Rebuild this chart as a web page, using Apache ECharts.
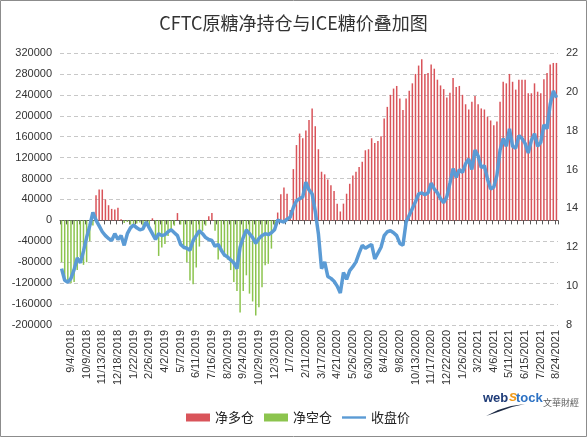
<!DOCTYPE html>
<html>
<head>
<meta charset="utf-8">
<style>
  html, body { margin: 0; padding: 0; background: #fff; }
  #chart-container { width: 587px; height: 437px; }
</style>
<script src="https://cdn.jsdelivr.net/npm/echarts@6/dist/echarts.min.js"></script>
</head>
<body>
<div id="chart-container"></div>
<script>
var dom = document.getElementById('chart-container');
var myChart = echarts.init(dom, null, { renderer: 'canvas' });

// weekly report dates, first one 8/14/2018
var startDate = Date.UTC(2018, 7, 14);
var weekCount = 159;

// CFTC non-commercial net position (contracts)
var netPosition = [
  -80000, -112000, -118000, -120000, -118000, -95000, -70000, -85000, -80000, -40000,
  -10000, 48000, 59000, 59000, 40000, 29000, 22000, 21000, 24000, 2000,
  -5000, -3000, -8000, -12000, -6000, -4000, -10000, -5000, -15000, 4000,
  -35000, -68000, -52000, -45000, -30000, -20000, -10000, 14000, -8000, -55000,
  -80000, -115000, -122000, -90000, -50000, -20000, -10000, 8000, 14000, -20000,
  -75000, -60000, -70000, -75000, -95000, -118000, -135000, -176000, -135000, -105000,
  -140000, -155000, -182000, -166000, -128000, -86000, -83000, -54000, -10000, 15000,
  50000, 63000, 51000, 20000, 98000, 144000, 166000, 157000, 172000, 192000,
  214000, 180000, 136000, 93000, 88000, 78000, 67000, 56000, 32000, 17000,
  32000, 51000, 70000, 86000, 93000, 102000, 112000, 134000, 136000, 157000,
  148000, 152000, 161000, 195000, 217000, 240000, 252000, 257000, 233000, 211000,
  233000, 248000, 262000, 280000, 296000, 308000, 280000, 282000, 298000, 290000,
  269000, 258000, 251000, 235000, 244000, 272000, 255000, 257000, 240000, 222000,
  212000, 227000, 238000, 222000, 214000, 212000, 198000, 191000, 182000, 189000,
  227000, 265000, 262000, 280000, 265000, 250000, 269000, 269000, 269000, 243000,
  243000, 262000, 246000, 243000, 270000, 282000, 298000, 301000, 301000
];

// ICE raw sugar close (US cents/lb)
var closePrice = [
  10.9, 10.3, 10.2, 10.4, 10.85, 11.45, 11.2, 11.8, 12.5, 13.1,
  13.8, 13.4, 13.1, 12.8, 12.6, 12.45, 12.35, 12.7, 12.4, 12.6,
  12.1, 12.7, 13.0, 13.15, 13.0, 12.9, 12.95, 13.3, 13.0, 12.7,
  12.4, 12.7, 12.6, 12.65, 12.8, 12.9, 12.75, 12.6, 12.15, 12.0,
  11.95, 11.85, 12.35, 12.6, 12.85, 12.7, 12.5, 12.4, 12.35, 12.05,
  12.15, 11.85, 11.6, 11.5, 11.35, 11.2, 10.9, 12.0, 12.5, 12.9,
  12.7, 12.5, 12.2, 12.45, 12.6, 12.7, 12.65, 12.75, 12.9, 13.4,
  13.35, 13.3, 13.45, 13.55, 14.05, 14.4, 14.5, 14.6, 15.35, 14.95,
  14.75, 13.85, 12.7, 10.9, 11.25, 10.5, 10.4, 10.25, 10.0, 9.65,
  10.7, 10.35, 10.8, 11.0, 11.25, 11.7, 12.1, 11.95, 12.05, 12.15,
  11.4, 11.7, 12.0, 12.6, 12.8, 12.85, 12.75, 12.6, 12.2, 12.1,
  13.3, 13.65, 14.0, 14.35, 14.75, 14.8, 14.7, 14.8, 15.3, 15.0,
  14.8, 14.5, 14.3, 14.6, 15.3, 16.05, 15.6, 16.0, 15.85, 16.3,
  16.55, 16.0, 17.0, 16.7, 16.1, 16.2, 15.5, 15.0, 15.1, 15.7,
  17.0, 17.6, 17.2, 18.1, 17.2, 17.1, 17.75, 17.6, 17.35, 16.85,
  17.5, 17.85, 17.2, 17.4, 18.3, 18.1, 19.35, 20.05, 19.7
];

var leftTicks = { min: -200000, max: 320000, interval: 40000 };
var rightTicks = { min: 8, max: 22, interval: 2 };

var dates = [];
for (var i = 0; i < weekCount; i++) {
  var d = new Date(startDate + i * 7 * 86400000);
  dates.push((d.getUTCMonth() + 1) + '/' + d.getUTCDate() + '/' + d.getUTCFullYear());
}

var netLong = netPosition.map((v) => (v >= 0 ? v : '-'));
var netShort = netPosition.map((v) => (v < 0 ? v : '-'));

var font = '"Liberation Sans", Arial, "Noto Sans CJK SC", sans-serif';
var cjk = '"Noto Sans CJK SC", "Liberation Sans", sans-serif';

var option = {
  backgroundColor: '#fff',
  animation: false,
  title: {
    text: 'CFTC原糖净持仓与ICE糖价叠加图',
    left: 'center',
    top: 9,
    textStyle: { fontSize: 18, fontWeight: 'normal', color: '#333', fontFamily: cjk },
  },
  legend: {
    left: 181,
    top: 406,
    itemWidth: 24,
    itemHeight: 8,
    itemGap: 10,
    textStyle: { fontSize: 13, color: '#222', fontFamily: cjk },
    data: [
      { name: '净多仓', icon: 'rect' },
      { name: '净空仓', icon: 'rect' },
      { name: '收盘价', icon: 'path://M0,0 L30,0 L30,3 L0,3 Z', itemStyle: { color: '#5b9bd5' } },
    ],
  },
  grid: { left: 60, right: 29, top: 53, bottom: 112 },
  xAxis: [
    {
      type: 'category',
      data: dates,
      axisLine: { onZero: true, lineStyle: { color: '#595959', width: 1 } },
      axisTick: { show: true, interval: 1, length: 4, lineStyle: { color: '#595959' } },
      axisLabel: { show: false },
      splitLine: { show: false },
    },
    {
      type: 'category',
      data: dates,
      position: 'bottom',
      axisLine: { show: false, onZero: false },
      axisTick: { show: false },
      axisLabel: {
        rotate: 90,
        margin: 5,
        interval: (idx) => idx % 5 === 3,
        fontSize: 11,
        color: '#333',
        fontFamily: font,
      },
    },
  ],
  yAxis: [
    {
      type: 'value',
      min: leftTicks.min,
      max: leftTicks.max,
      interval: leftTicks.interval,
      axisLine: { show: false },
      axisTick: { show: false },
      axisLabel: { fontSize: 11, color: '#333', margin: 8, fontFamily: font, formatter: (v) => String(v) },
      splitLine: { lineStyle: { color: '#c8c8c8', type: [4, 3] } },
    },
    {
      type: 'value',
      min: rightTicks.min,
      max: rightTicks.max,
      interval: rightTicks.interval,
      axisLine: { show: false },
      axisTick: { show: false },
      axisLabel: { fontSize: 11, color: '#333', margin: 8, fontFamily: font },
      splitLine: { show: false },
    },
  ],
  series: [
    {
      name: '净多仓',
      type: 'bar',
      stack: 'net',
      data: netLong,
      barWidth: 1.5,
      itemStyle: { color: '#d9545a' },
    },
    {
      name: '净空仓',
      type: 'bar',
      stack: 'net',
      data: netShort,
      barWidth: 1.5,
      itemStyle: { color: '#8cc44e' },
    },
    {
      name: '收盘价',
      type: 'line',
      yAxisIndex: 1,
      data: closePrice,
      symbol: 'none',
      lineStyle: { color: '#5b9bd5', width: 3.5 },
      itemStyle: { color: '#5b9bd5' },
      z: 5,
    },
  ],
  graphic: [
    {
      type: 'rect',
      shape: { x: 0.5, y: 0.5, width: 586, height: 436 },
      style: { fill: 'none', stroke: '#8c8c8c', lineWidth: 1 },
      silent: true,
    },
    {
      type: 'polygon',
      shape: { points: [[486, 416], [498, 410], [511, 406], [525, 404], [512, 407], [498, 412]] },
      style: { fill: '#1c2a44' },
      silent: true,
    },
    {
      type: 'text',
      left: 483,
      top: 392,
      style: { text: 'web', fill: '#1f3c78', font: 'bold 13px "Liberation Sans", Arial' },
      silent: true,
    },
    {
      type: 'text',
      left: 509,
      top: 389,
      style: { text: 's', fill: '#f09a1a', font: 'italic bold 15px "Liberation Sans", Arial' },
      silent: true,
    },
    {
      type: 'text',
      left: 516,
      top: 392,
      style: { text: 'tock', fill: '#2d72c4', font: 'bold 13px "Liberation Sans", Arial' },
      silent: true,
    },
    {
      type: 'text',
      left: 543,
      top: 398,
      style: { text: '文華財經', fill: '#5a5a5a', font: '9px "Noto Sans CJK TC"' },
      silent: true,
    },
  ],
};

if (option && typeof option === 'object') {
  myChart.setOption(option);
}

window.addEventListener('resize', myChart.resize);
</script>
</body>
</html>
